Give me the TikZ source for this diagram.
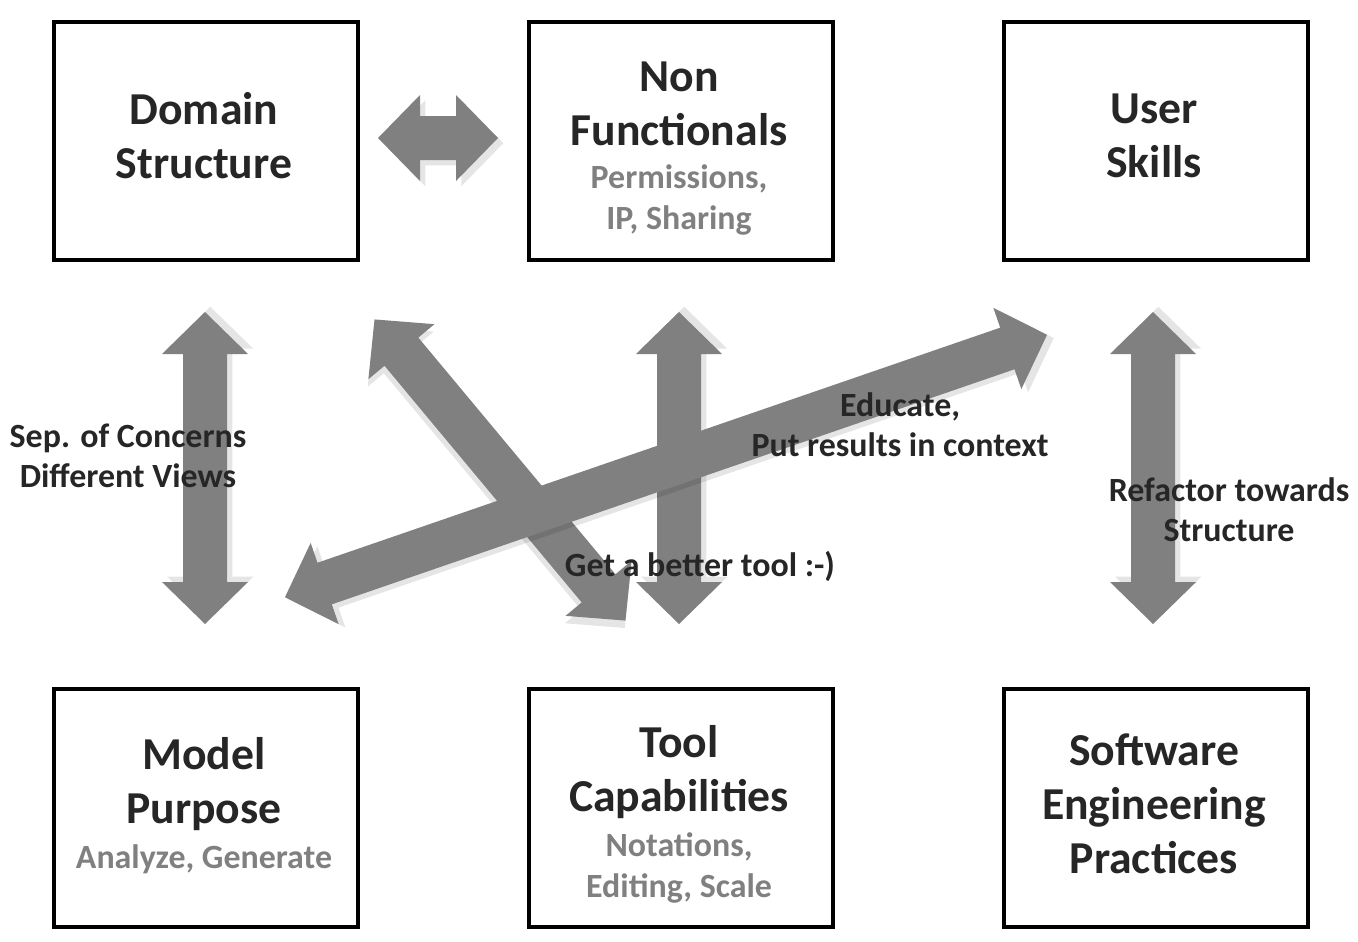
\documentclass[tikz,border=0pt]{standalone}
\usepackage{fontspec}
\setmainfont{Carlito}
\begin{document}
\begin{tikzpicture}[x=0.02cm,y=-0.02cm,
  box/.style={draw=black,line width=4*0.02cm,minimum width=304*0.02cm,minimum height=238*0.02cm,anchor=north west,inner sep=0pt},
  ttl/.style={font=\bfseries\fontsize{26}{30.6}\selectfont,text=black!85,align=center},
  sub/.style={font=\bfseries\fontsize{19.3}{23}\selectfont,text=black!50,align=center},
  lab/.style={font=\bfseries\fontsize{19.3}{23}\selectfont,text=black!85,align=center}]
\useasboundingbox (0,0) rectangle (1358,941);
\newcommand\fatarrow[4]{%
 \begin{scope}[shift={(#1,#2)},rotate=#3]
  \fill[black,opacity=0.1] ([shift={(3pt,-3pt)}]-#4/2,0) -- ++(42,-43) -- ++(0,21) -- ++(#4-84,0) -- ++(0,-21) -- ++(42,43) -- ++(-42,43) -- ++(0,-21) -- ++(-#4+84,0) -- ++(0,21) -- cycle;
  \fill[gray] (-#4/2,0) -- ++(42,-43) -- ++(0,21) -- ++(#4-84,0) -- ++(0,-21) -- ++(42,43) -- ++(-42,43) -- ++(0,-21) -- ++(-#4+84,0) -- ++(0,21) -- cycle;
 \end{scope}}
\node[box] (ds) at (52,20) {};
\node[box] (nf) at (527,20) {};
\node[box] (us) at (1002,20) {};
\node[box] (mp) at (52,687) {};
\node[box] (tc) at (527,687) {};
\node[box] (se) at (1002,687) {};
\node[ttl] at (204,136) {Domain\\Structure};
\node[ttl] at (679,104) {Non\\Functionals};
\node[sub] at (679,200) {Permissions,\\IP, Sharing};
\node[ttl] at (1154,136) {User\\Skills};
\node[ttl] at (204,784) {Model\\Purpose};
\node[sub] at (204,859) {Analyze, Generate};
\node[ttl] at (679,772) {Tool\\Capabilities};
\node[sub] at (679,868) {Notations,\\Editing, Scale};
\node[ttl] at (1154,804) {Software\\Engineering\\Practices};
\fatarrow{438}{138}{0}{120}
\fatarrow{205}{468}{90}{312}
\fatarrow{679}{468}{90}{312}
\fatarrow{1153}{468}{90}{312}
\fatarrow{500}{470}{-50.2}{392}
\fatarrow{666}{466}{19}{806}
\node[lab] (l1) at (128,456) {Sep. of Concerns\\Different Views};
\node[lab] (l2) at (900,425) {Educate,\\Put results in context};
\node[lab] (l3) at (700,566) {Get a better tool :-)};
\node[lab] (l4) at (1229,510) {Refactor towards\\Structure};
\end{tikzpicture}
\end{document}
